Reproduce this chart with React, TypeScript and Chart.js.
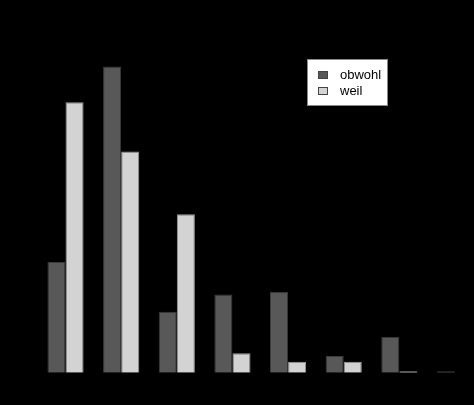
import React, { useEffect, useRef } from "react";
import { Chart, registerables } from "chart.js";

Chart.register(...registerables);

const categories = ["1", "2", "3", "4", "5", "6", "7", "8"];
const seriesNames = ["obwohl", "weil"];
const obwohlValues = [16.0, 44.3, 8.8, 11.3, 11.7, 2.4, 5.2, 0.2];
const weilValues = [39.1, 32.0, 22.9, 2.8, 1.6, 1.6, 0.2, 0];
const fillColors = ["#585858", "#d3d3d3"];
const edgeColors = ["#3a3a3a", "#9a9a9a"];

const boxLegend = {
  id: "boxLegend",
  afterDraw(chart: any) {
    const ctx = chart.ctx;
    ctx.save();
    const x0 = 307, y0 = 59, w = 81, h = 47;
    ctx.fillStyle = "#ffffff";
    ctx.fillRect(x0, y0, w, h);
    ctx.strokeStyle = "#888888";
    ctx.lineWidth = 1;
    ctx.strokeRect(x0 + 0.5, y0 + 0.5, w - 1, h - 1);
    ctx.font = "13px 'Liberation Sans', Arial, sans-serif";
    ctx.textBaseline = "middle";
    chart.data.datasets.forEach((ds: any, i: number) => {
      const cy = 75 + i * 16;
      ctx.fillStyle = ds.backgroundColor;
      ctx.fillRect(318, cy - 4, 10, 8);
      ctx.strokeStyle = "#444444";
      ctx.strokeRect(318.5, cy - 3.5, 9, 7);
      ctx.fillStyle = "#000000";
      ctx.fillText(ds.label, 340, cy + 0.5);
    });
    ctx.restore();
  },
};

function BarChart() {
  const ref = useRef<HTMLCanvasElement>(null);
  useEffect(() => {
    if (!ref.current) return;
    const chart = new Chart(ref.current, {
      type: "bar",
      data: {
        labels: categories,
        datasets: [
          {
            label: seriesNames[0],
            data: obwohlValues,
            backgroundColor: fillColors[0],
            borderColor: edgeColors[0],
            borderWidth: 1,
          },
          {
            label: seriesNames[1],
            data: weilValues,
            backgroundColor: fillColors[1],
            borderColor: edgeColors[1],
            borderWidth: 1,
          },
        ],
      },
      options: {
        animation: false,
        responsive: false,
        devicePixelRatio: 1,
        layout: { padding: { left: 37.7, right: 7.2, top: 0, bottom: 32.3 } },
        datasets: { bar: { categoryPercentage: 0.65, barPercentage: 1 } },
        scales: {
          x: { display: false },
          y: { display: false, min: 0, max: 53.9 },
        },
        plugins: { legend: { display: false }, tooltip: { enabled: false } },
      },
      plugins: [boxLegend],
    });
    return () => chart.destroy();
  }, []);
  return <canvas ref={ref} width={490} height={405} style={{ display: "block" }} />;
}

export default function App() {
  return (
    <div
      style={{
        position: "fixed",
        top: 0,
        left: 0,
        width: 474,
        height: 405,
        overflow: "hidden",
        background: "#000000",
      }}
    >
      <BarChart />
    </div>
  );
}
